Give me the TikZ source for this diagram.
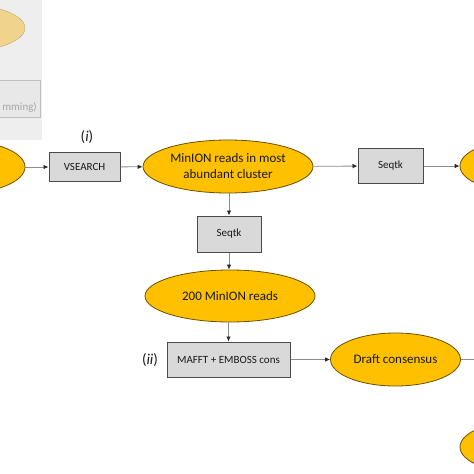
\documentclass[tikz,border=0pt]{standalone}
\usepackage{fontspec}
\setmainfont{Carlito}
\usetikzlibrary{shapes.geometric,arrows.meta}
\definecolor{gold}{HTML}{FFC000}
\definecolor{goldline}{HTML}{6B5000}
\definecolor{boxfill}{HTML}{D9D9D9}
\definecolor{boxline}{HTML}{4A4A4A}
\definecolor{edgegray}{HTML}{8C8C8C}
\definecolor{fadebg}{HTML}{EEEEEE}
\definecolor{fadegold}{HTML}{F0D48C}
\definecolor{fadeline}{HTML}{BBAA80}
\begin{document}
\begin{tikzpicture}[x=1pt,y=-1pt]
            \tikzstyle{every node}=[inner sep=0pt, text=black!90]
            \tikzstyle{blob}=[ellipse, fill=gold, draw=goldline, line width=0.8pt, font=\fontsize{13}{16}\selectfont, align=center]
            \tikzstyle{tool}=[rectangle, fill=boxfill, draw=boxline, line width=1pt, font=\fontsize{11}{13}\selectfont]
            \tikzstyle{edge}=[edgegray, line width=0.8pt, -{Latex[length=5pt,width=4.5pt,color=black!85]}]

            \useasboundingbox (0,0) rectangle (474,474);
            \clip (0,0) rectangle (474,474);

            % faded part of the figure
            \fill[fadebg] (-10,-10) rectangle (42,140);
            \node[ellipse, fill=fadegold, draw=fadeline, minimum width=130pt, minimum height=48pt] (old) at (-40,28) {};
            \node[rectangle, fill=black!9, draw=black!25, line width=1pt, minimum width=100pt, minimum height=37pt] (trim) at (-10,98.5) {};
            \node[anchor=east, text=black!35, font=\fontsize{11}{13}\selectfont] (trimtxt) at (37,107) {mming)};

            \node[blob, minimum width=130pt, minimum height=53pt] (reads) at (-40,167) {};
            \node[tool, minimum width=71pt, minimum height=29pt] (vsearch) at (84.5,167) {VSEARCH};
            \node[blob, minimum width=170pt, minimum height=53pt] (cluster) at (228,166.5) {MinION reads in most\\abundant cluster};
            \node[tool, minimum width=65pt, minimum height=35pt] (seqtka) at (390.5,166) {Seqtk};
            \node[blob, minimum width=130pt, minimum height=53pt] (next) at (525,166) {};

            \node[tool, minimum width=64pt, minimum height=36pt] (seqtkb) at (229,234) {Seqtk};
            \node[blob, minimum width=170pt, minimum height=52pt] (sub) at (230,296) {200 MinION reads};
            \node[tool, minimum width=123pt, minimum height=35pt] (mafft) at (228.5,359.5) {MAFFT + EMBOSS cons};
            \node[blob, minimum width=130pt, minimum height=53pt] (draft) at (395.5,359.5) {Draft consensus};
            \node[blob, minimum width=130pt, minimum height=53pt] (final) at (525,447) {};
            \coordinate (out) at (490,359.5);

            \node[font=\fontsize{15}{18}\selectfont] (stepi) at (87,137) {(\textit{i})};
            \node[font=\fontsize{15}{18}\selectfont] (stepii) at (150,360) {(\textit{ii})};

            \draw[edge] (reads) -- (vsearch);
            \draw[edge] (vsearch) -- (cluster);
            \draw[edge] (cluster) -- (seqtka);
            \draw[edge] (seqtka) -- (next);
            \draw[edge] (cluster.south -| seqtkb) -- (seqtkb);
            \draw[edge] (seqtkb) -- (sub.north -| seqtkb);
            \draw[edge] (sub.south -| mafft) -- (mafft);
            \draw[edge] (mafft) -- (draft);
            \draw[edgegray, line width=0.8pt] (draft) -- (out);
        \end{tikzpicture}
\end{document}
